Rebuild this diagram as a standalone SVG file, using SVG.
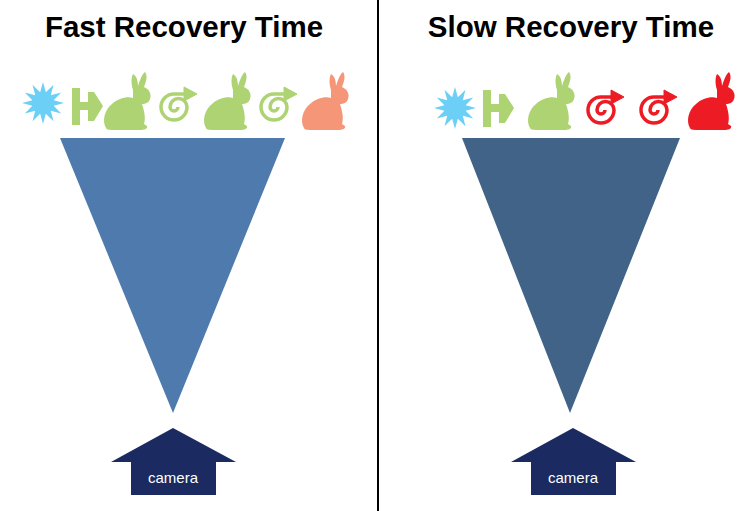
<svg xmlns="http://www.w3.org/2000/svg" width="750" height="511" viewBox="0 0 750 511">
<style>
.title{font-family:"Liberation Sans",Arial,sans-serif;font-weight:bold;font-size:29.5px;text-anchor:middle;fill:#000}
.cam{font-family:"Liberation Sans",Arial,sans-serif;font-size:15px;text-anchor:middle;fill:#fff}
.g{fill:#add373}.blue{fill:#6ccff6}.sal{fill:#f69679}.red{fill:#ed1c24}
</style>
<defs>
<polygon id="star" points="0,-21 2.85,-10.63 10.5,-18.19 7.78,-7.78 18.19,-10.5 10.63,-2.85 21,0 10.63,2.85 18.19,10.5 7.78,7.78 10.5,18.19 2.85,10.63 0,21 -2.85,10.63 -10.5,18.19 -7.78,7.78 -18.19,10.5 -10.63,2.85 -21,0 -10.63,-2.85 -18.19,-10.5 -7.78,-7.78 -10.5,-18.19 -2.85,-10.63"/>
<polygon id="harrow" points="0,0 8,0 8,14 16,14 16,4 22,4 31,18 22,33 16,33 16,22 8,22 8,37 0,37"/>
<path id="rabbit" d="M4,56 C0,50 2,38 10,32 C16,26 26,24 31,26 L31,18 C29,12 29,6 31,2 C35,4 36,10 36,14 C38,8 40,2 43,0 C46,4 44,10 42,15 C47,17 50,22 48,27 C47,31 43,32 40,32 C42,38 44,46 42,52 L45,54 C46,57 42,58 38,58 L10,58 C6,58 4,57 4,56 Z"/>
<g id="spiral">
<path d="M21,24 A4,4 0 0 1 13,24 A8.5,8.5 0 0 1 30,24 A13,13 0 0 1 4,24 A13,13 0 0 1 17,11 L28,11" fill="none" stroke-width="3.5"/>
<polygon points="27,4 40,11 27,18"/>
</g>
</defs>
<line x1="378" y1="0" x2="378" y2="511" stroke="#000" stroke-width="2"/>
<text class="title" x="184" y="37">Fast Recovery Time</text>
<text class="title" x="571" y="37">Slow Recovery Time</text>
<g id="left-icons">
<use href="#star" x="43" y="103" class="blue"/>
<use href="#harrow" x="72" y="88" class="g"/>
<use href="#rabbit" x="102" y="72" class="g"/>
<use href="#spiral" x="157" y="83" class="g" stroke="#add373"/>
<use href="#rabbit" x="202" y="72" class="g"/>
<use href="#spiral" x="257" y="83" class="g" stroke="#add373"/>
<use href="#rabbit" x="300" y="72" class="sal"/>
</g>
<g id="right-icons">
<use href="#star" x="455" y="108" class="blue"/>
<use href="#harrow" x="483" y="90" class="g"/>
<use href="#rabbit" x="526" y="72" class="g"/>
<use href="#spiral" x="584" y="86" class="red" stroke="#ed1c24"/>
<use href="#spiral" x="637" y="86" class="red" stroke="#ed1c24"/>
<use href="#rabbit" x="686" y="72" class="red"/>
</g>
<g id="left-view"><polygon points="60,138 285,138 173,413" fill="#4e7aad"/></g>
<g id="right-view"><polygon points="462,138 680,138 570,413" fill="#426388"/></g>
<g id="left-camera">
<polygon points="173,428 236,462 216,462 216,495 131,495 131,462 111,462" fill="#1b2a60"/>
<text class="cam" x="173" y="483">camera</text>
</g>
<g id="right-camera">
<polygon points="573,428 636,462 616,462 616,495 531,495 531,462 511,462" fill="#1b2a60"/>
<text class="cam" x="573" y="483">camera</text>
</g>
</svg>
